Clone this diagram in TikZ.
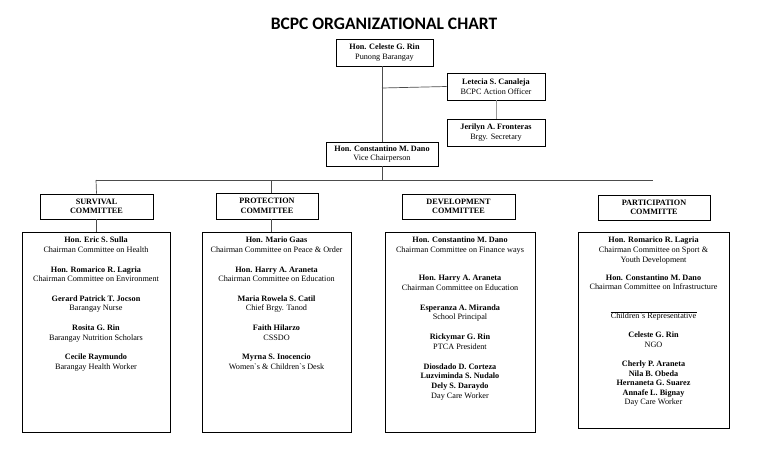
\documentclass[tikz,border=0pt]{standalone}
\usepackage{fontspec}
\setmainfont{Liberation Serif}
\newfontfamily\titlefont{Carlito}
\begin{document}
\begin{tikzpicture}[x=1pt,y=-1pt,
  box/.style={draw=black,line width=0.8pt,fill=white,inner sep=0pt,align=center,
    font=\fontsize{8.2}{9.6}\selectfont},
  bigbox/.style={draw=black,line width=0.8pt,fill=white,inner sep=0pt},
  content/.style={anchor=north,inner sep=0pt,align=center,
    font=\fontsize{8.2}{9.6}\selectfont},
  link/.style={draw=black!70,line width=0.7pt},
  softlink/.style={draw=black!40,line width=0.9pt}]
\useasboundingbox (0,0) rectangle (768,466);
\fill[white] (0,0) rectangle (768,466);

\node[inner sep=0pt,font=\titlefont\bfseries\fontsize{17.5}{20}\selectfont] (title) at (384,24) {BCPC ORGANIZATIONAL CHART};

% top boxes
\node[box,minimum width=97pt,minimum height=27pt] (celeste) at (384.5,52.5)
  {\textbf{Hon. Celeste G. Rin}\\Punong Barangay};
\node[box,minimum width=98pt,minimum height=27pt] (letecia) at (496,86.5)
  {\textbf{Letecia S. Canaleja}\\BCPC Action Officer};
\node[box,minimum width=98pt,minimum height=27pt] (jerilyn) at (496,132.5)
  {\textbf{Jerilyn A. Fronteras}\\Brgy. Secretary};
\node[box,minimum width=112pt,minimum height=24pt] (dano) at (382,154)
  {\textbf{Hon. Constantino M. Dano}\\Vice Chairperson};

% committee boxes
\node[box,minimum width=113pt,minimum height=25pt] (surv) at (96.5,206.5)
  {\textbf{SURVIVAL}\\\textbf{COMMITTEE}};
\node[box,minimum width=102pt,minimum height=26pt] (prot) at (267,206)
  {\textbf{PROTECTION}\\\textbf{COMMITTEE}};
\node[box,minimum width=113pt,minimum height=25pt] (dev) at (458.5,206.5)
  {\textbf{DEVELOPMENT}\\\textbf{COMMITTEE}};
\node[box,minimum width=112pt,minimum height=25pt] (part) at (654,207.5)
  {\textbf{PARTICIPATION}\\\textbf{COMMITTE}};

% member boxes
\node[bigbox,minimum width=148pt,minimum height=200pt] (sbig) at (96,332) {};
\node[bigbox,minimum width=149pt,minimum height=200pt] (pbig) at (276.5,332) {};
\node[bigbox,minimum width=150pt,minimum height=200pt] (dbig) at (460,332) {};
\node[bigbox,minimum width=151pt,minimum height=196pt] (qbig) at (653.5,330) {};

\node[content] (stext) at (96,237)
  {\textbf{Hon. Eric S. Sulla}\\Chairman Committee on Health\\[10pt]
   \textbf{Hon. Romarico R. Lagria}\\Chairman Committee on Environment\\[10pt]
   \textbf{Gerard Patrick T. Jocson}\\Barangay Nurse\\[10pt]
   \textbf{Rosita G. Rin}\\Barangay Nutrition Scholars\\[10pt]
   \textbf{Cecile Raymundo}\\Barangay Health Worker};
\node[content] (ptext) at (276.5,237)
  {\textbf{Hon. Mario Gaas}\\Chairman Committee on Peace \& Order\\[10pt]
   \textbf{Hon. Harry A. Araneta}\\Chairman Committee on Education\\[10pt]
   \textbf{Maria Rowela S. Catil}\\Chief Brgy. Tanod\\[10pt]
   \textbf{Faith Hilarzo}\\CSSDO\\[10pt]
   \textbf{Myrna S. Inocencio}\\Women\textasciigrave s \& Children\textasciigrave s Desk};
\node[content] (dtext) at (460,237)
  {\textbf{Hon. Constantino M. Dano}\\Chairman Committee on Finance ways\\[18.4pt]
   \textbf{Hon. Harry A. Araneta}\\Chairman Committee on Education\\[10.4pt]
   \textbf{Esperanza A. Miranda}\\School Principal\\[10.4pt]
   \textbf{Rickymar G. Rin}\\PTCA President\\[10.4pt]
   \textbf{Diosdado D. Corteza}\\\textbf{Luzviminda S. Nudalo}\\\textbf{Dely S. Daraydo}\\Day Care Worker};
\node[content] (qtext) at (653.5,237)
  {\textbf{Hon. Romarico R. Lagria}\\Chairman Committee on Sport \&\\Youth Development\\[8.4pt]
   \textbf{Hon. Constantino M. Dano}\\Chairman Committee on Infrastructure\\[10pt]
   \rule[-3pt]{86pt}{0.5pt}\\Children\textasciigrave s Representative\\[9.4pt]
   \textbf{Celeste G. Rin}\\NGO\\[9.4pt]
   \textbf{Cherly P. Araneta}\\\textbf{Nila B. Obeda}\\\textbf{Hernaneta G. Suarez}\\\textbf{Annafe L. Bignay}\\Day Care Worker};

% connectors
\coordinate (j1) at (382,88);
\coordinate (hub) at (382,180);
\coordinate (hl) at (96,180);
\coordinate (hr) at (653,180);
\coordinate (hp) at (271,180);
\draw[link] (celeste.south -| dano.north) -- (dano.north);
\draw[link] (j1) -- (letecia.west);
\draw[softlink] (letecia.south) -- (jerilyn.north);
\draw[link] (dano.south) -- (hub);
\draw[link] (hl) -- (hr);
\draw[link] (hl) -- (surv.north);
\draw[link] (surv.south) -- (sbig.north -| surv.south);
\draw[link] (hp) -- (hp |- prot.north);
\draw[link] (hp |- prot.south) -- (hp |- pbig.north);
\end{tikzpicture}
\end{document}
